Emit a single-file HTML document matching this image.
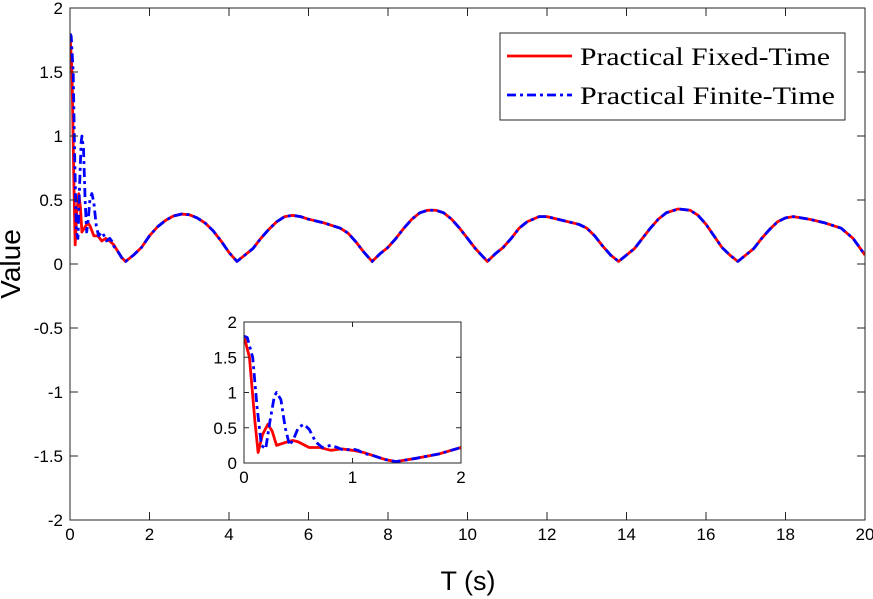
<!DOCTYPE html>
<html><head><meta charset="utf-8"><style>
html,body{margin:0;padding:0;background:#fff;}
svg{display:block;font-family:"Liberation Sans",Arial,sans-serif;}
</style></head><body>
<svg id="chart" width="873" height="599" viewBox="0 0 873 599" xmlns="http://www.w3.org/2000/svg"></svg>
<script>
const shared = {
t:[1.4,1.6,1.8,2.0,2.2,2.4,2.6,2.8,3.0,3.2,3.4,3.6,3.8,4.0,4.2,4.4,4.6,4.8,5.0,5.2,5.4,5.6,5.8,6.0,6.4,6.8,7.0,7.2,7.4,7.6,7.8,8.0,8.2,8.4,8.6,8.8,9.0,9.2,9.4,9.6,9.8,10.0,10.2,10.5,10.7,10.9,11.1,11.3,11.5,11.8,12.0,12.4,12.8,13.0,13.2,13.4,13.6,13.8,14.0,14.2,14.4,14.6,14.8,15.0,15.3,15.6,15.8,16.0,16.2,16.4,16.6,16.8,17.0,17.2,17.4,17.6,17.8,18.0,18.2,18.6,19.0,19.4,19.7,20.0],
v:[0.02,0.07,0.13,0.22,0.29,0.34,0.375,0.39,0.385,0.36,0.32,0.26,0.18,0.09,0.02,0.07,0.12,0.2,0.27,0.33,0.37,0.38,0.37,0.35,0.32,0.28,0.24,0.17,0.09,0.02,0.08,0.13,0.2,0.28,0.35,0.4,0.42,0.42,0.4,0.35,0.28,0.2,0.12,0.02,0.08,0.13,0.2,0.28,0.33,0.37,0.37,0.34,0.31,0.28,0.22,0.14,0.07,0.02,0.07,0.12,0.2,0.28,0.35,0.4,0.43,0.42,0.38,0.31,0.22,0.13,0.07,0.02,0.07,0.12,0.2,0.27,0.33,0.36,0.37,0.35,0.32,0.28,0.2,0.07]};
const redT=[0,0.05,0.1,0.13,0.17,0.22,0.26,0.3,0.4,0.45,0.5,0.6,0.7,0.8,0.9,1.0,1.1,1.2,1.3];
const redV=[1.8,1.5,0.6,0.15,0.4,0.55,0.45,0.25,0.3,0.32,0.3,0.22,0.22,0.18,0.2,0.18,0.15,0.1,0.05];
const blueT=[0,0.03,0.08,0.12,0.16,0.2,0.24,0.28,0.3,0.34,0.38,0.42,0.46,0.5,0.55,0.6,0.66,0.72,0.8,0.86,0.92,1.0,1.05,1.1,1.2,1.3];
const blueV=[1.8,1.78,1.5,0.8,0.25,0.2,0.6,0.95,1.0,0.9,0.5,0.25,0.35,0.5,0.55,0.48,0.3,0.22,0.25,0.22,0.18,0.2,0.18,0.14,0.1,0.05];
const mainXTicks=[0,2,4,6,8,10,12,14,16,18,20];
const mainYTicks=[-2,-1.5,-1,-0.5,0,0.5,1,1.5,2];
const insetXTicks=[0,1,2];
const insetYTicks=[0,0.5,1,1.5,2];

const NS="http://www.w3.org/2000/svg";
const svg=document.getElementById('chart');
function mk(tag,attrs,parent){const e=document.createElementNS(NS,tag);for(const k in attrs)e.setAttribute(k,attrs[k]);(parent||svg).appendChild(e);return e;}
function series(T,V){const t=T.concat(shared.t),v=V.concat(shared.v);return t.map((x,i)=>[x,v[i]]);}
const red=series(redT,redV), blue=series(blueT,blueV);

function drawAxes(box,xd,yd,xt,yt,fs,name,tickLen){
  const sx=x=>box.l+(x-xd[0])/(xd[1]-xd[0])*(box.r-box.l);
  const sy=y=>box.b-(y-yd[0])/(yd[1]-yd[0])*(box.b-box.t);
  const g=mk('g',{});
  
  
  mk('rect',{x:box.l,y:box.t,width:box.r-box.l,height:box.b-box.t,fill:'#fff',stroke:'none'},g);
  const cid=name+'-clip';
  const cp=mk('clipPath',{id:cid},g);mk('rect',{x:box.l,y:box.t-2,width:box.r-box.l,height:box.b-box.t+4},cp);
  const lines=mk('g',{'clip-path':'url(#'+cid+')'},g);
  function path(pts,col,dash,nm){
    const p=mk('path',{d:pts.map((q,i)=>(i?'L':'M')+sx(q[0]).toFixed(2)+' '+sy(q[1]).toFixed(2)).join(''),fill:'none',stroke:col,'stroke-width':2.8,'stroke-linejoin':'round'},lines);
    if(dash)p.setAttribute('stroke-dasharray',dash);
    
    
  }
  path(red,'#ff0000',null,name+'-fixed-time-line');
  path(blue,'#0000ff','9,4,3,4',name+'-finite-time-line');
  mk('rect',{x:box.l,y:box.t,width:box.r-box.l,height:box.b-box.t,fill:'none',stroke:'#262626','stroke-width':1},g);
  xt.forEach(v=>{const x=sx(v);
    mk('line',{x1:x,x2:x,y1:box.b,y2:box.b-tickLen,stroke:'#262626'},g);
    mk('line',{x1:x,x2:x,y1:box.t,y2:box.t+tickLen,stroke:'#262626'},g);
    const tx=mk('text',{x:x,y:box.b+fs+3,'font-size':fs,'text-anchor':'middle',fill:'#000'},g);tx.textContent=v;
    
    });
  yt.forEach(v=>{const y=sy(v);
    mk('line',{x1:box.l,x2:box.l+tickLen,y1:y,y2:y,stroke:'#262626'},g);
    mk('line',{x1:box.r,x2:box.r-tickLen,y1:y,y2:y,stroke:'#262626'},g);
    const tx=mk('text',{x:box.l-7,y:y+fs*0.36,'font-size':fs,'text-anchor':'end',fill:'#000'},g);tx.textContent=v;
    
    });
}
drawAxes({l:70,r:865,t:8,b:520},[0,20],[-2,2],mainXTicks,mainYTicks,17,'main-axes',8);

// legend
const lg=mk('g',{});


mk('rect',{x:500,y:33,width:345,height:87,fill:'#fff',stroke:'#262626'},lg);
mk('line',{x1:507,x2:572,y1:56,y2:56,stroke:'#ff0000','stroke-width':2.8},lg);
mk('line',{x1:507,x2:572,y1:95,y2:95,stroke:'#0000ff','stroke-width':2.8,'stroke-dasharray':'9,4,3,4'},lg);
const l1=mk('text',{x:580,y:65,'font-size':25,'font-family':'"Liberation Serif",serif',textLength:250,lengthAdjust:'spacingAndGlyphs'},lg);l1.textContent='Practical Fixed-Time';


const l2=mk('text',{x:580,y:104,'font-size':25,'font-family':'"Liberation Serif",serif',textLength:255,lengthAdjust:'spacingAndGlyphs'},lg);l2.textContent='Practical Finite-Time';



drawAxes({l:244,r:461,t:322,b:463},[0,2],[0,2],insetXTicks,insetYTicks,17,'inset-axes',5);

const xl=mk('text',{x:468,y:590,'font-size':27,'text-anchor':'middle'});xl.textContent='T (s)';


const yl=mk('text',{x:0,y:0,'font-size':28,'text-anchor':'middle',transform:'translate(20,264) rotate(-90)'});yl.textContent='Value';


</script>
</body></html>
